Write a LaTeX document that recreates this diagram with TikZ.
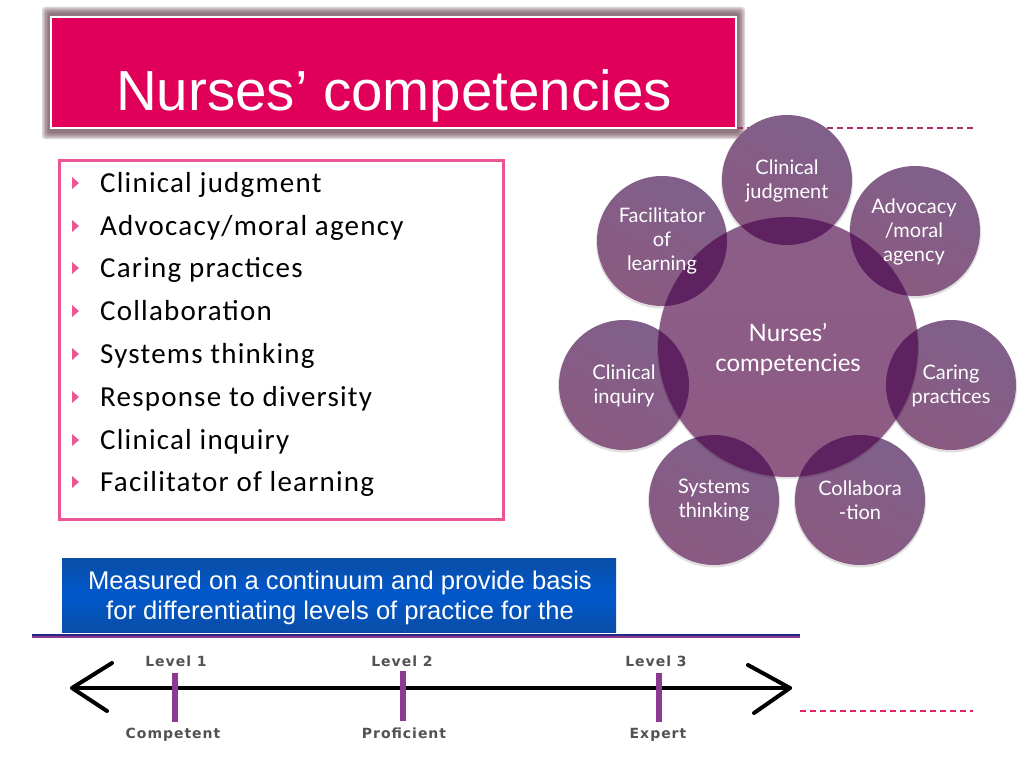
\documentclass[tikz,border=0pt]{standalone}
\usepackage{fontspec}
\setmainfont{Liberation Sans}
\newfontfamily\listfont[LetterSpace=4.2,Renderer=Basic]{Carlito}
\newfontfamily\circfont[Renderer=Basic]{Lato}
\newfontfamily\levelfont[LetterSpace=7]{DejaVu Sans}
\definecolor{titlepink}{HTML}{E0005A}
\definecolor{boxpink}{HTML}{EC5596}
\definecolor{circdark}{HTML}{5E2260}
\definecolor{circa}{HTML}{80608A}
\definecolor{circb}{HTML}{8A5A82}
\definecolor{centera}{HTML}{8A5E88}
\definecolor{centerb}{HTML}{8F5A84}
\definecolor{blueedge}{HTML}{0A4DA6}
\definecolor{bluemid}{HTML}{0058CC}
\definecolor{tick}{HTML}{8C3A90}
\definecolor{dashA}{HTML}{A83068}
\definecolor{dashB}{HTML}{E0245C}
\definecolor{shadowtone}{HTML}{6E4A58}
\tikzset{
  x=1pt,y=-1pt,
  petal/.style={circle,minimum size=130pt,inner sep=0pt,shading=axis,top color=circa,bottom color=circb,shading angle=-30},
  hub/.style={circle,minimum size=260pt,inner sep=0pt,shading=axis,top color=centera,bottom color=centerb},
  petaltext/.style={font=\circfont\fontsize{20}{24}\selectfont,text=white,align=center,inner sep=0pt},
  item/.style={font=\listfont\fontsize{29}{32}\selectfont,text=black,anchor=base west,inner sep=0pt},
  marker/.style={fill=boxpink},
  level/.style={font=\levelfont\bfseries\fontsize{14}{16}\selectfont,text=black!68,inner sep=0pt,anchor=base},
  mainline/.style={line width=4pt,black,line cap=round,line join=round},
  ticktime/.style={line width=6pt,tick}
}
\begin{document}
\begin{tikzpicture}
\useasboundingbox (0,0) rectangle (1024,768);
\fill[white] (0,0) rectangle (1024,768);
% title
\foreach \g in {8,6.5,5,3.5,2}{
  \fill[shadowtone,opacity=.24,rounded corners=3pt]
    (50-\g,15-\g) rectangle (737+\g,131+\g);
}
\node[draw=white,line width=2.5pt,fill=titlepink,minimum width=685pt,minimum height=111pt,inner sep=0pt,outer sep=0pt,anchor=north west] (titlebox) at (51,17) {};
\node[font=\fontsize{56.5}{60}\selectfont,text=white,inner sep=0pt,anchor=base] (titletext) at (394,110) {Nurses’ competencies};
\coordinate (d1a) at (737,128); \coordinate (d1b) at (973,128);
\draw[dashA,line width=1.5pt,dash pattern=on 6pt off 4pt] (d1a) -- (d1b);
% list
\node[draw=boxpink,line width=3pt,fill=white,minimum width=444pt,minimum height=359pt,inner sep=0pt,outer sep=0pt,anchor=north west] (listbox) at (59.5,160) {};
\foreach \n/\y/\t in {a/183/{Clinical judgment},b/226/{Advocacy/moral agency},c/268/{Caring practices},d/311/{Collaboration},e/354/{Systems thinking},f/397/{Response to diversity},g/440/{Clinical inquiry},h/482/{Facilitator of learning}}{
  \fill[marker] (72,\y-6) -- (79,\y) -- (72,\y+6) -- cycle;
  \node[item] (item\n) at (100,\y+9) {\t};
}
% diagram
\foreach \n/\x/\y in {p1/787/180,p2/915/231,p3/951/385,p4/860/500,p5/714/500,p6/624/385,p7/662/241}{
  \fill[black,opacity=.12] (\x,\y+1.5) circle (66);
  \node[petal] (\n) at (\x,\y) {};
}
\fill[black,opacity=.10] (788,348) circle (131);
\node[hub] (hub) at (788,347) {};
\foreach \x/\y in {787/180,915/231,951/385,860/500,714/500,624/385,662/241}{
  \begin{scope}
    \clip (788,347) circle (130);
    \fill[circdark] (\x,\y) circle (65);
  \end{scope}
}
\node[petaltext] (t1) at (787,181) {Clinical\\[0pt]judgment};
\node[petaltext] (t2) at (914,232) {Advocacy\\[0pt]/moral\\[0pt]agency};
\node[petaltext] (t3) at (951,386) {Caring\\[0pt]practices};
\node[petaltext] (t4) at (860,500) {Collabora\\[0pt]-tion};
\node[petaltext] (t5) at (714,500) {Systems\\[0pt]thinking};
\node[petaltext] (t6) at (624,386) {Clinical\\[0pt]inquiry};
\node[petaltext] (t7) at (662,241) {Facilitator\\[0pt]of\\[0pt]learning};
\node[petaltext,font=\circfont\fontsize{24}{30}\selectfont] (t0) at (788,349) {Nurses’\\competencies};
% blue box
\node[minimum width=554pt,minimum height=74pt,inner sep=0pt,outer sep=0pt,anchor=north west,shading=axis,top color=blueedge,bottom color=blueedge,middle color=bluemid] (bluebox) at (62,558) {};
\node[font=\fontsize{25.6}{30.5}\selectfont,text=white,align=center,inner sep=0pt] (bluetext) at (340,598) {Measured on a continuum and provide basis\\for differentiating levels of practice for the};
\coordinate (la) at (32,635); \coordinate (lb) at (800,635);
\coordinate (lc) at (32,637); \coordinate (ld) at (800,637);
\draw[line width=1.6pt,color=blue!45!black!85] (la) -- (lb);
\draw[line width=1.4pt,color=tick] (lc) -- (ld);
% timeline
\coordinate (L) at (72,688); \coordinate (R) at (790,688);
\coordinate (La) at (112,663); \coordinate (Lb) at (107,711);
\coordinate (Ra) at (748,665); \coordinate (Rb) at (754,713);
\draw[mainline] (L) -- (R);
\draw[mainline] (La) -- (L) -- (Lb);
\draw[mainline] (Ra) -- (R) -- (Rb);
\foreach \n/\x/\a/\b in {1/175/673/722,2/403/671/721,3/659/673/722}{
  \coordinate (ta\n) at (\x,\a); \coordinate (tb\n) at (\x,\b);
  \draw[ticktime] (ta\n) -- (tb\n);
}
\node[level] (l1) at (176,666) {Level 1};
\node[level] (l2) at (402,666) {Level 2};
\node[level] (l3) at (656,666) {Level 3};
\node[level] (n1) at (173,738) {Competent};
\node[level] (n2) at (404,738) {Proficient};
\node[level] (n3) at (658,738) {Expert};
\coordinate (d2a) at (800,711); \coordinate (d2b) at (973,711);
\draw[dashB,line width=1.3pt,dash pattern=on 6pt off 4pt] (d2a) -- (d2b);
\end{tikzpicture}
\end{document}
